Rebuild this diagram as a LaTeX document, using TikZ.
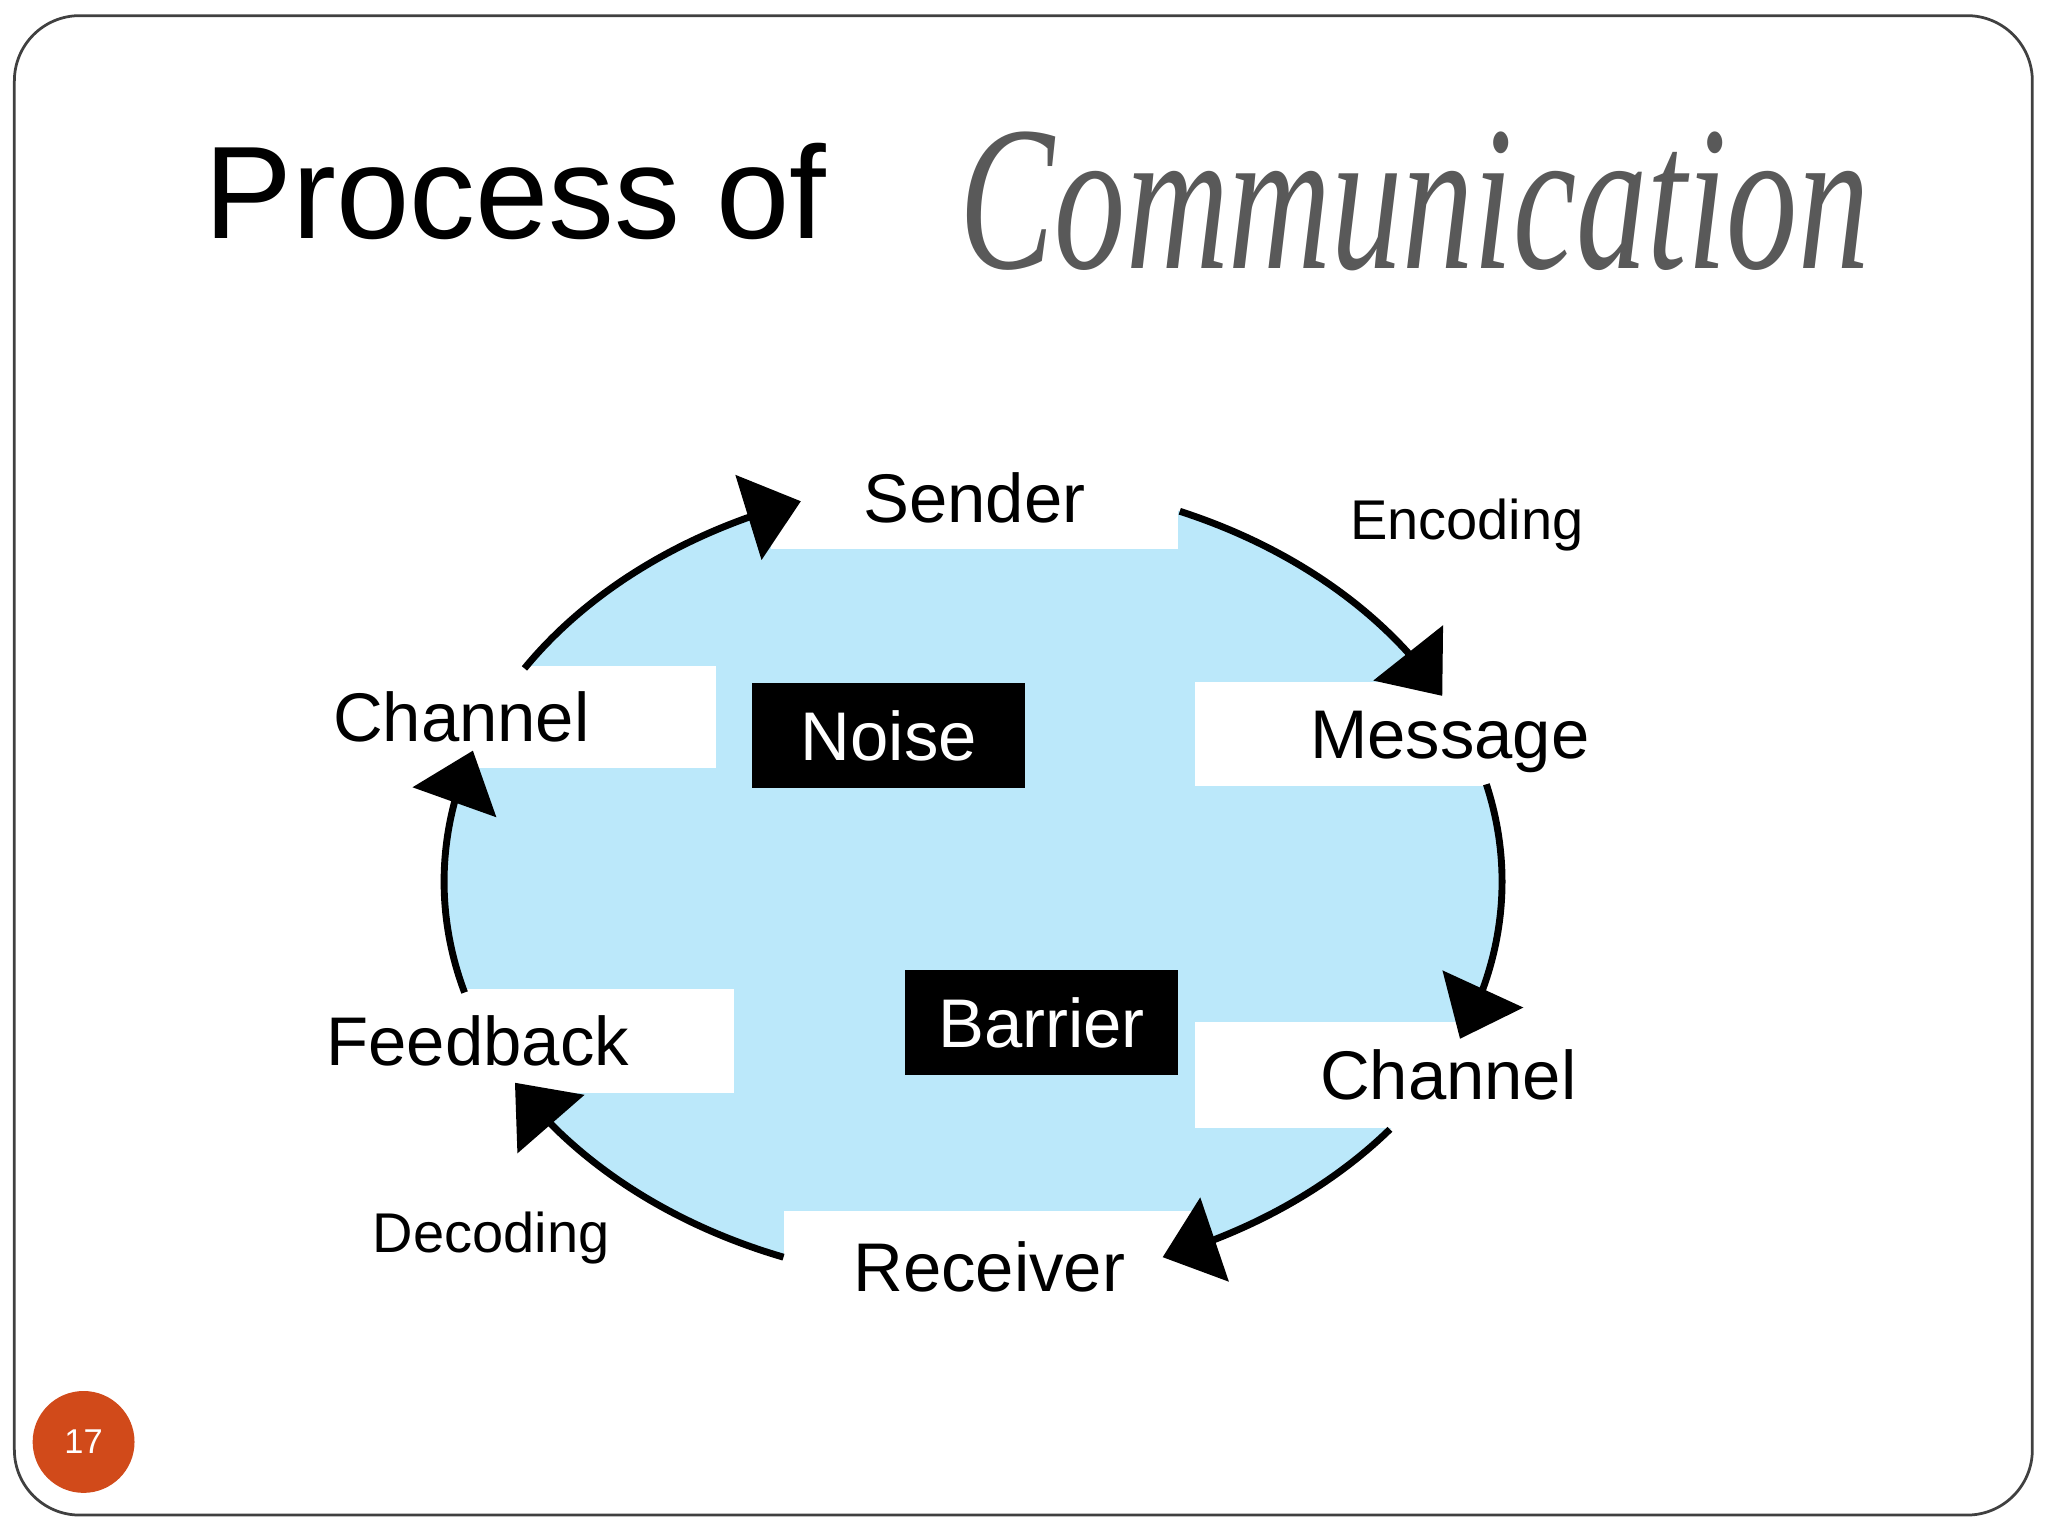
\documentclass[tikz,border=0pt]{standalone}
\usepackage{fontspec}
\setmainfont{Liberation Sans}
\newfontfamily\commfont{Liberation Serif}
\usepackage{xcolor}
\usetikzlibrary{positioning, arrows.meta, bending, calc}
\definecolor{ovalblue}{RGB}{187,232,250}
\definecolor{pagered}{RGB}{209,74,26}
\tikzstyle{labelbox} = [rectangle, fill=white, inner xsep=0.05cm, inner ysep=0pt, minimum height=0.8cm, text height=0.38cm, text depth=0pt, font=\fontsize{15}{18}\selectfont]
\tikzstyle{darkbox} = [rectangle, fill=black, text=white, minimum width=2.09cm, minimum height=0.8cm, inner sep=0pt, text height=0.38cm, text depth=0pt, font=\fontsize{15}{18}\selectfont]
\tikzstyle{note} = [font=\fontsize{12.2}{14}\selectfont]
\tikzstyle{arrow} = [line width=1.5pt, -{Triangle[flex, length=0.42cm, width=0.67cm]}]

\begin{document}
\begin{tikzpicture}
		\useasboundingbox (0,0) rectangle (15.68,11.76);
		%幻灯片边框
		\draw [rounded corners=0.5cm, draw=black!75, line width=0.6pt] (0.11,0.16) rectangle (15.56,11.64);
		
		%标题
		\node (title) [anchor=base west, font=\fontsize{28.7}{34}\selectfont] at (1.44,9.93) {Process of};
		\node (script) [text=black!65, font=\commfont\itshape\fontsize{31}{36}\selectfont] at (10.83,10.22) {\scalebox{1}[1.45]{Communication}};
		
		%椭圆
		\coordinate (c) at (7.45,5.01);
		\fill [ovalblue] (c) ellipse [x radius=4.05, y radius=3.08];
		
		%标签
		\node (sender) [labelbox, text width=3.02cm, align=center, minimum height=0.78cm] at (7.46,7.95) {Sender};
		\node (chanl) [labelbox, text width=2.88cm, align=left, minimum height=0.78cm] at (3.99,6.27) {Channel};
		\node (message) [labelbox, text width=2.97cm, align=right] at (10.685,6.14) {Message};
		\node (chanr) [labelbox, text width=2.87cm, align=right, minimum height=0.81cm] at (10.635,3.53) {Channel};
		\node (receiver) [labelbox, text width=3.05cm, align=center, minimum height=0.85cm] at (7.575,2.06) {Receiver};
		\node (feedback) [labelbox, text width=3.07cm, align=left] at (4.035,3.79) {Feedback};
		\node (noise) [darkbox] at (6.805,6.13) {Noise};
		\node (barrier) [darkbox] at (7.975,3.93) {Barrier};
		\node (encoding) [note] at (11.23,7.74) {Encoding};
		\node (decoding) [note] at (3.76,2.28) {Decoding};
		
		%箭头
		\foreach \s/\e [count=\i] in {148/109, 67/27.5, 14/-23, -38/-69, -111/-150, -164/-199}
		{
			\coordinate (arc\i) at ($(c)+(\s:4.05 and 3.08)$);
			\draw [arrow] (arc\i) arc [start angle=\s, end angle=\e, x radius=4.05, y radius=3.08];
		}
		
		%页码
		\node (page) [circle, fill=pagered, minimum size=0.78cm, inner sep=0pt, text=white, font=\fontsize{7.5}{9}\selectfont] at (0.64,0.72) {17};
	\end{tikzpicture}
\end{document}
